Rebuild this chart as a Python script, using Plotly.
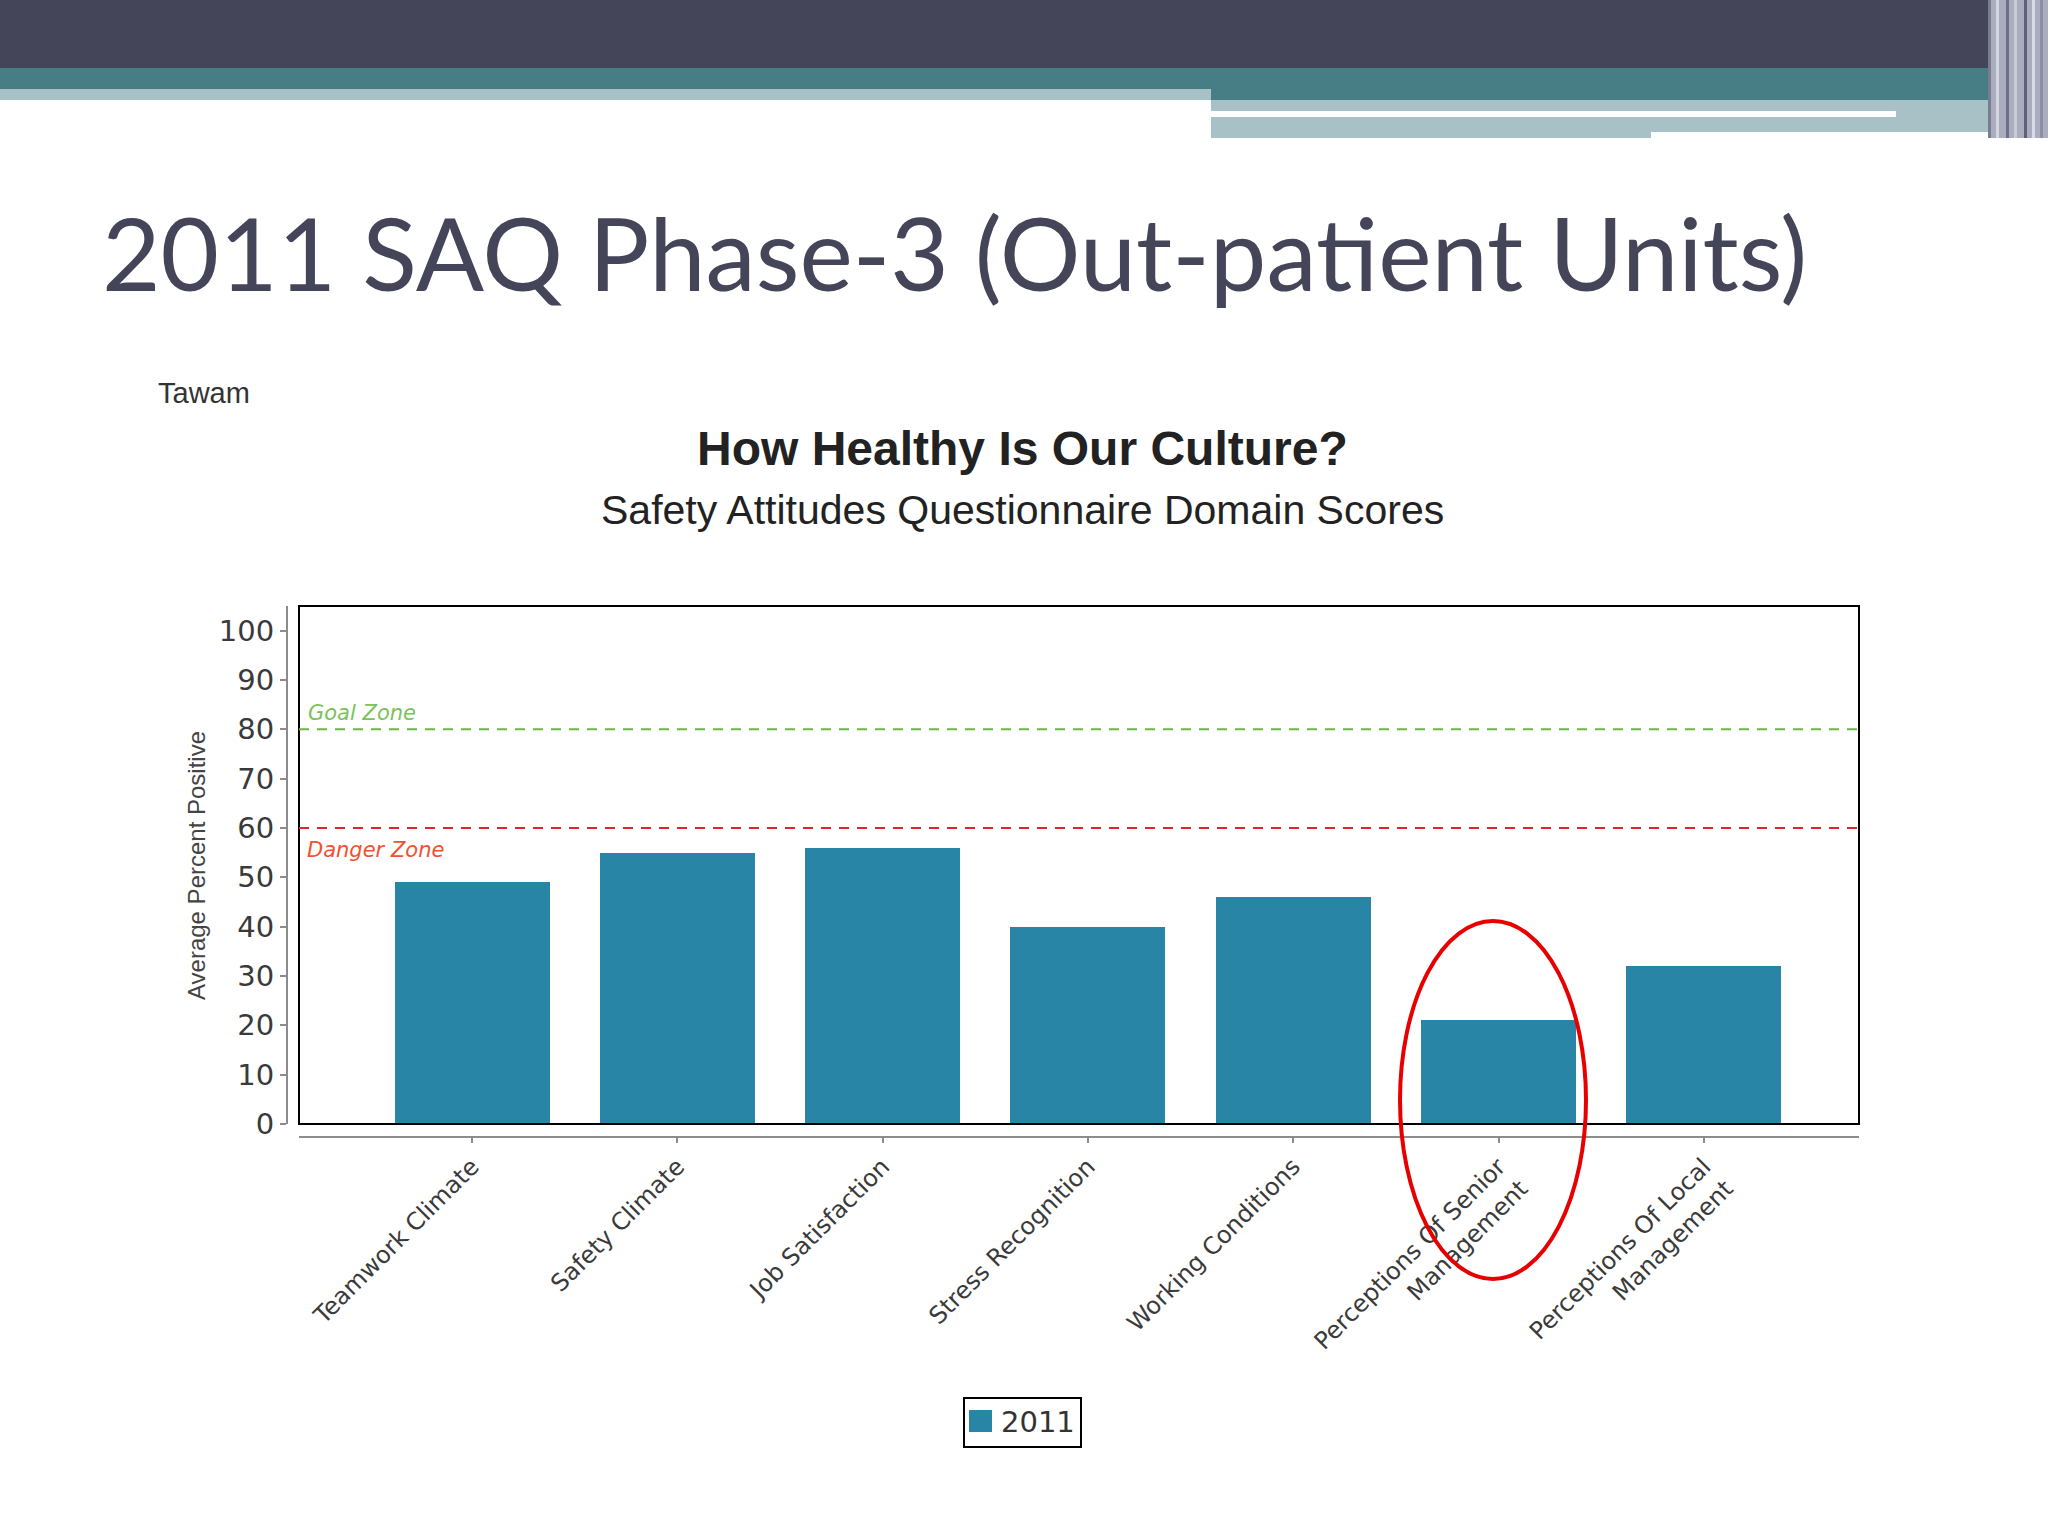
import plotly.graph_objects as go

# ---------------- data ----------------
categories = [
    "Teamwork Climate",
    "Safety Climate",
    "Job Satisfaction",
    "Stress Recognition",
    "Working Conditions",
    "Perceptions Of Senior<br>Management",
    "Perceptions Of Local<br>Management",
]
scores_2011 = [49, 55, 56, 40, 46, 21, 32]
series_name = "2011"
goal_zone = 80
danger_zone = 60
y_ticks = [0, 10, 20, 30, 40, 50, 60, 70, 80, 90, 100]

# ---------------- layout geometry (pixels) ----------------
FW, FH = 2048, 1536
L, R, T, B = 287, 1859, 606, 1137      # plotting area (axis lines)
W, H = R - L, B - T
BOX_L, BOX_B = 299, 1124               # inner framed box


def px(xp):
    return (xp - L) / W


def py(yp):
    return (B - yp) / H


dom_x0 = px(BOX_L)
dom_y0 = py(BOX_B)

BAR = "#2885A6"
TEXT = "#3A3A3A"

fig = go.Figure()
fig.add_trace(go.Bar(
    x=list(range(len(categories))),
    y=scores_2011,
    name=series_name,
    width=0.755,
    marker=dict(color=BAR, line=dict(width=0)),
    showlegend=False,
))

shapes = []
# header banner
shapes += [
    dict(type="rect", xref="paper", yref="paper", x0=px(0), x1=px(FW), y0=py(0), y1=py(68),
         fillcolor="#45455A", line=dict(width=0), layer="below"),
    dict(type="rect", xref="paper", yref="paper", x0=px(0), x1=px(FW), y0=py(68), y1=py(89),
         fillcolor="#477E85", line=dict(width=0), layer="below"),
    dict(type="rect", xref="paper", yref="paper", x0=px(0), x1=px(1211), y0=py(89), y1=py(100),
         fillcolor="#A7C1C6", line=dict(width=0), layer="below"),
    dict(type="rect", xref="paper", yref="paper", x0=px(1211), x1=px(FW), y0=py(89), y1=py(100),
         fillcolor="#477E85", line=dict(width=0), layer="below"),
    dict(type="rect", xref="paper", yref="paper", x0=px(1211), x1=px(1990), y0=py(100), y1=py(138),
         fillcolor="#A7C1C6", line=dict(width=0), layer="below"),
    dict(type="rect", xref="paper", yref="paper", x0=px(1211), x1=px(1896), y0=py(111), y1=py(117),
         fillcolor="#FFFFFF", line=dict(width=0), layer="below"),
    dict(type="rect", xref="paper", yref="paper", x0=px(1651), x1=px(1990), y0=py(132), y1=py(138),
         fillcolor="#FFFFFF", line=dict(width=0), layer="below"),
    dict(type="rect", xref="paper", yref="paper", x0=px(1988), x1=px(FW), y0=py(0), y1=py(138),
         fillcolor="#A9ADBE", line=dict(width=0), layer="below"),
]
for xs, col in [(1988, "#7A7C90"), (1996, "#D4D6E0"), (2006, "#6E7085"), (2014, "#C9CBD7"),
                (2024, "#5F6178"), (2032, "#D9DBE4"), (2040, "#8C8FA2")]:
    shapes.append(dict(type="rect", xref="paper", yref="paper", x0=px(xs), x1=px(xs + 3),
                       y0=py(0), y1=py(138), fillcolor=col, line=dict(width=0), layer="below"))

# framed box
shapes.append(dict(type="rect", xref="paper", yref="paper", x0=dom_x0, x1=1, y0=dom_y0, y1=1,
                   line=dict(color="#000000", width=2), fillcolor="rgba(0,0,0,0)", layer="above"))
# zone lines
shapes.append(dict(type="line", xref="paper", yref="y", x0=dom_x0, x1=1, y0=goal_zone, y1=goal_zone,
                   line=dict(color="#6DB544", width=2, dash="10px,8px")))
shapes.append(dict(type="line", xref="paper", yref="y", x0=dom_x0, x1=1, y0=danger_zone, y1=danger_zone,
                   line=dict(color="#E0262B", width=2, dash="10px,8px")))
# red highlight ellipse
shapes.append(dict(type="circle", xref="paper", yref="paper", x0=px(1400), x1=px(1586),
                   y0=py(1279), y1=py(921), line=dict(color="#E80000", width=4),
                   fillcolor="rgba(0,0,0,0)", layer="above"))
# legend (box + swatch) for the single series
shapes.append(dict(type="rect", xref="paper", yref="paper", x0=px(964), x1=px(1081),
                   y0=py(1447), y1=py(1398), line=dict(color="#000000", width=2),
                   fillcolor="#FFFFFF"))
shapes.append(dict(type="rect", xref="paper", yref="paper", x0=px(969), x1=px(992),
                   y0=py(1432), y1=py(1410), line=dict(width=0), fillcolor=BAR))

annotations = [
    dict(text="2011 SAQ Phase-3 (Out-patient Units)", xref="paper", yref="paper",
         x=px(100), y=py(252), xanchor="left", yanchor="middle", showarrow=False,
         font=dict(family="Lato", size=101, color="#45455A")),
    dict(text="Tawam", xref="paper", yref="paper", x=px(156), y=py(393),
         xanchor="left", yanchor="middle", showarrow=False,
         font=dict(family="Liberation Sans", size=29, color="#333333")),
    dict(text="<b>How Healthy Is Our Culture?</b>", xref="paper", yref="paper", x=px(1022), y=py(448),
         xanchor="center", yanchor="middle", showarrow=False,
         font=dict(family="Liberation Sans", size=48, color="#222222")),
    dict(text="Safety Attitudes Questionnaire Domain Scores", xref="paper", yref="paper",
         x=px(1022), y=py(510), xanchor="center", yanchor="middle", showarrow=False,
         font=dict(family="Liberation Sans", size=41, color="#222222")),
    dict(text="Average Percent Positive", xref="paper", yref="paper", x=px(196), y=py(866),
         xanchor="center", yanchor="middle", textangle=-90, showarrow=False,
         font=dict(family="Liberation Sans", size=24, color="#444444")),
    dict(text="<i>Goal Zone</i>", xref="paper", yref="y", x=px(306), y=goal_zone + 3.3,
         xanchor="left", yanchor="middle", showarrow=False,
         font=dict(family="DejaVu Sans", size=21, color="#7CC25A")),
    dict(text="<i>Danger Zone</i>", xref="paper", yref="y", x=px(305), y=danger_zone - 4.4,
         xanchor="left", yanchor="middle", showarrow=False,
         font=dict(family="DejaVu Sans", size=21, color="#EE5230")),
    dict(text=series_name, xref="paper", yref="paper", x=px(999), y=py(1422),
         xanchor="left", yanchor="middle", showarrow=False,
         font=dict(family="DejaVu Sans", size=29, color="#333333")),
]

fig.update_layout(
    width=FW, height=FH,
    margin=dict(l=L, r=FW - R, t=T, b=FH - B, pad=0),
    paper_bgcolor="#FFFFFF",
    plot_bgcolor="#FFFFFF",
    shapes=shapes,
    annotations=annotations,
    bargap=0,
    showlegend=False,
    xaxis=dict(
        domain=[dom_x0, 1], anchor="free", position=0,
        range=[-0.843, 6.756],
        tickmode="array", tickvals=list(range(len(categories))), ticktext=categories,
        tickangle=-45,
        showline=True, linecolor="#8C8C8C", linewidth=2,
        ticks="outside", ticklen=5, tickcolor="#8C8C8C", tickwidth=2,
        showgrid=False, zeroline=False,
        tickfont=dict(family="DejaVu Sans", size=24, color=TEXT),
    ),
    yaxis=dict(
        domain=[dom_y0, 1], anchor="free", position=0,
        range=[0, 105],
        tickmode="array", tickvals=y_ticks, ticktext=[str(v) for v in y_ticks],
        showline=True, linecolor="#8C8C8C", linewidth=2,
        ticks="outside", ticklen=6, tickcolor="#8C8C8C", tickwidth=2,
        showgrid=False, zeroline=False,
        tickfont=dict(family="DejaVu Sans", size=29, color=TEXT),
    ),
)

fig.write_html("out.html")
